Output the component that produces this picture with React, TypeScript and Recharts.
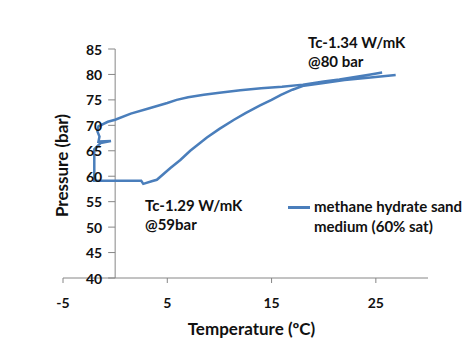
import { LineChart, Line, XAxis, YAxis, ReferenceLine, Legend } from 'recharts'

// temperature (°C) / pressure (bar) read along the loop, in drawing order
const temps = [
  25.6, 24.5, 23, 21.5, 20, 18, 16, 14, 12, 10, 8.5, 7, 5.9, 5, 3.2, 1.5, 0, -0.7, -1.6,
  -1.7, -1.5, -1.6, -0.4, -1.4, -1.7, -2.0, -2.0,
  0.5, 2.5, 2.7, 3.5,
  4.0, 5.3, 6.25, 7.2, 8.8, 10, 11.4, 12.5, 13.9, 15, 15.9, 17, 18.1, 20, 22, 24, 26.9,
]
const pressures = [
  80.4, 80.0, 79.5, 79.0, 78.6, 78.0, 77.6, 77.3, 76.9, 76.4, 76.0, 75.5, 75.0, 74.4, 73.3, 72.3, 71.1, 70.7, 69.8,
  68.8, 67.8, 66.8, 66.9, 66.5, 65.9, 65.3, 59.1,
  59.1, 59.1, 58.5, 59.0,
  59.3, 61.6, 63.2, 65.0, 67.6, 69.3, 71.1, 72.4, 73.9, 75.0, 76.0, 77.0, 77.8, 78.3, 78.9, 79.3, 79.9,
]
const xTicks = [-5, 5, 15, 25]
const yTicks = [40, 45, 50, 55, 60, 65, 70, 75, 80, 85]
const seriesName = 'methane hydrate sand medium (60% sat)'

const data = temps.map((t, i) => ({ t, p: pressures[i] }))

const FONT = "Lato, 'Open Sans', sans-serif"
const TEXT = '#111'
const AXIS = '#868686'
const BLUE = '#4a7ebb'

const W = 474
const H = 357
const MARGIN = { top: 49, right: 46, bottom: 19, left: 3 }
const Y_W = 60
const X_H = 60
const X_MIN = -5
const X_MAX = 30
const PLOT_LEFT = MARGIN.left + Y_W
const PLOT_W = W - PLOT_LEFT - MARGIN.right
// y axis crosses at x = 0
const X0 = PLOT_LEFT + (PLOT_W * (0 - X_MIN)) / (X_MAX - X_MIN)

const YTick = ({ y, payload }: any) => (
  <g>
    <line x1={X0 - 7} x2={X0} y1={y} y2={y} stroke={AXIS} />
    <text x={X0 - 13} y={y} textAnchor="end" dominantBaseline="central"
      fontFamily={FONT} fontWeight={700} fontSize={14} fill={TEXT}>
      {payload.value}
    </text>
  </g>
)

const LegendBox = () => (
  <div style={{ display: 'flex', alignItems: 'flex-start', fontFamily: FONT, fontWeight: 700, fontSize: 15, color: TEXT, lineHeight: '20px' }}>
    <div style={{ width: 22, height: 3, background: BLUE, marginTop: 10, marginRight: 4, flex: 'none' }} />
    <div>{seriesName}</div>
  </div>
)

const note: React.CSSProperties = {
  position: 'absolute', fontFamily: FONT, fontWeight: 700, fontSize: 15,
  color: TEXT, lineHeight: '19px', whiteSpace: 'nowrap',
}

export default function App() {
  return (
    <div style={{ position: 'absolute', left: 0, top: 0, width: W, height: H, background: '#fff' }}>
      <LineChart width={W} height={H} data={data} margin={MARGIN}>
        <XAxis
          dataKey="t" type="number" domain={[X_MIN, X_MAX]} ticks={xTicks}
          height={X_H} stroke={AXIS} tickSize={5} tickMargin={15}
          tick={{ fontFamily: FONT, fontWeight: 700, fontSize: 14, fill: TEXT }}
          label={({ viewBox }: any) => (
            <text x={viewBox.x + viewBox.width / 2 + 6} y={viewBox.y + 50} textAnchor="middle"
              dominantBaseline="central" fontFamily={FONT} fontWeight={700} fontSize={17} fill={TEXT}>
              Temperature (ºC)
            </text>
          )}
        />
        <YAxis
          type="number" domain={[40, 85]} ticks={yTicks} width={Y_W}
          axisLine={false} tickLine={false} tick={<YTick />}
          label={({ viewBox }: any) => {
            const cx = viewBox.x + viewBox.width - 2
            const cy = viewBox.y + viewBox.height / 2 + 2
            return (
              <text x={cx} y={cy} textAnchor="middle" dominantBaseline="central"
                transform={`rotate(-90 ${cx} ${cy})`}
                fontFamily={FONT} fontWeight={700} fontSize={17} fill={TEXT}>
                Pressure (bar)
              </text>
            )
          }}
        />
        <ReferenceLine x={0} stroke={AXIS} />
        <Legend layout="horizontal" verticalAlign="middle" align="center"
          wrapperStyle={{ left: 288, top: 196, width: 180 }} content={<LegendBox />} />
        <Line dataKey="p" name={seriesName} type="linear" stroke={BLUE} strokeWidth={2.5}
          dot={false} isAnimationActive={false} />
      </LineChart>
      <div style={{ ...note, left: 308, top: 33 }}>Tc-1.34 W/mK<br />@80 bar</div>
      <div style={{ ...note, left: 145, top: 196 }}>Tc-1.29 W/mK<br />@59bar</div>
    </div>
  )
}
